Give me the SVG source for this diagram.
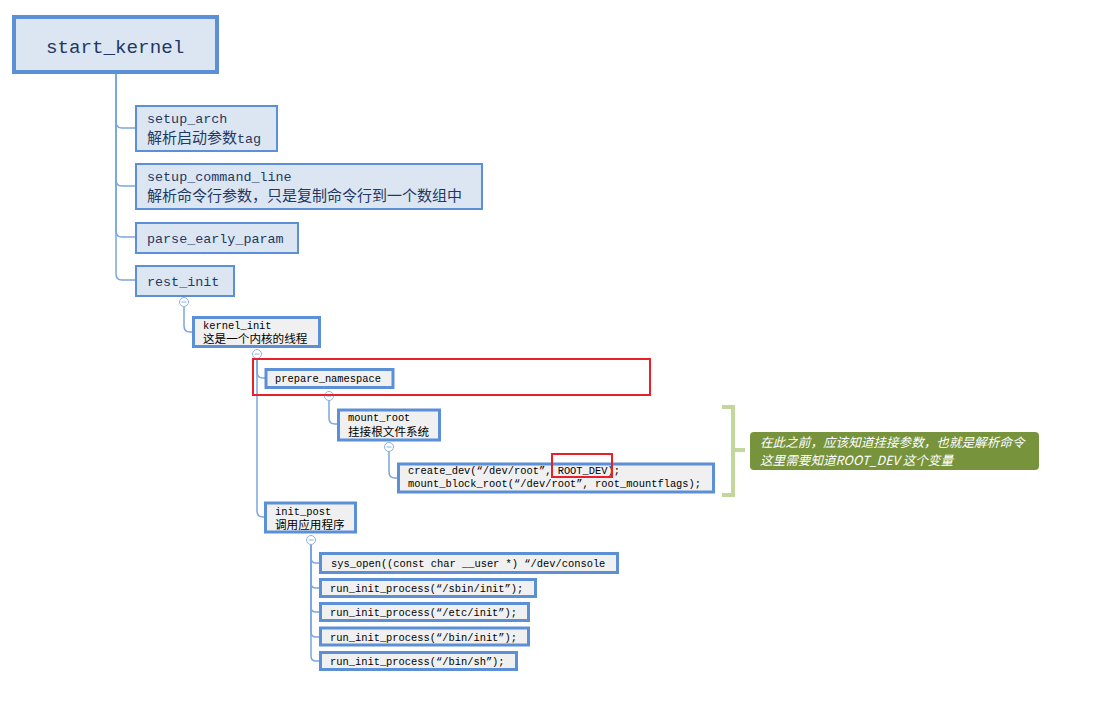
<svg xmlns="http://www.w3.org/2000/svg" width="1101" height="714" viewBox="0 0 1101 714">
<style>
.top{fill:#dce6f2;stroke:#5b8fd6;stroke-width:2}
.low{fill:#f0f0f0;stroke:#5b8fd6;stroke-width:3}
.tt{font-family:"Liberation Mono",monospace;font-size:13.4px;fill:#1f3864}
.tc{font-family:"Noto Sans CJK SC",sans-serif;font-size:15px;fill:#1f3864}
.lt{font-family:"Liberation Mono",monospace;font-size:10.4px;fill:#000}
.lc{font-family:"Noto Sans CJK SC",sans-serif;font-size:11.6px;fill:#000}
.con{fill:none;stroke:#7aa6e0;stroke-width:1.5}
.col{fill:#fff;stroke:#8db3e2;stroke-width:1}
.red{fill:none;stroke:#e8202a;stroke-width:2}
</style>
<rect width="1101" height="714" fill="#fff"/>
<g id="connectors">
<path class="con" d="M116,74 V122 Q116,128 122,128 H135"/>
<path class="con" d="M116,74 V180 Q116,186 122,186 H135"/>
<path class="con" d="M116,74 V231 Q116,237 122,237 H135"/>
<path class="con" d="M116,74 V274 Q116,280 122,280 H135"/>
<path class="con" d="M184,306 V326 Q184,332 190,332 H192"/>
<path class="con" d="M257,358 V372 Q257,378 263,378 H265"/>
<path class="con" d="M257,358 V511 Q257,517 263,517 H264"/>
<path class="con" d="M329,400 V418 Q329,424 335,424 H337"/>
<path class="con" d="M389,451 V472 Q389,478 395,478 H397"/>
<path class="con" d="M311,544 V558 Q311,563 316,563 H319"/>
<path class="con" d="M311,544 V583 Q311,588 316,588 H319"/>
<path class="con" d="M311,544 V607 Q311,612 316,612 H319"/>
<path class="con" d="M311,544 V632 Q311,637 316,637 H319"/>
<path class="con" d="M311,544 V656 Q311,661 316,661 H319"/>
<g id="collapse">
<circle class="col" cx="184" cy="302" r="4.5"/><path d="M181.5,302 H186.5" stroke="#8db3e2"/>
<circle class="col" cx="257" cy="354" r="4.5"/><path d="M254.5,354 H259.5" stroke="#8db3e2"/>
<circle class="col" cx="329" cy="396" r="4.5"/><path d="M326.5,396 H331.5" stroke="#8db3e2"/>
<circle class="col" cx="389" cy="447" r="4.5"/><path d="M386.5,447 H391.5" stroke="#8db3e2"/>
<circle class="col" cx="311" cy="540" r="4.5"/><path d="M308.5,540 H313.5" stroke="#8db3e2"/>
</g>
</g>
<g id="start_kernel">
<rect x="14" y="17" width="203" height="55" fill="#dce6f2" stroke="#5b8fd6" stroke-width="4"/>
<text x="46" y="53" font-family="Liberation Mono,monospace" font-size="19.2" fill="#1f3864">start_kernel</text>
</g>
<g id="setup_arch">
<rect class="top" x="136" y="106" width="141" height="45"/>
<text class="tt" x="147" y="123">setup_arch</text>
<text class="tc" x="147" y="143">解析启动参数<tspan class="tt">tag</tspan></text>
</g>
<g id="setup_command_line">
<rect class="top" x="136" y="164" width="346" height="45"/>
<text class="tt" x="147" y="181">setup_command_line</text>
<text class="tc" x="147" y="201">解析命令行参数，只是复制命令行到一个数组中</text>
</g>
<g id="parse_early_param">
<rect class="top" x="136" y="223" width="162" height="30" stroke-width="2.5"/>
<text class="tt" x="147" y="243">parse_early_param</text>
</g>
<g id="rest_init">
<rect class="top" x="136" y="266" width="98" height="30"/>
<text class="tt" x="147" y="286">rest_init</text>
</g>
<g id="kernel_init">
<rect class="low" x="193.5" y="317.5" width="126" height="29"/>
<text class="lt" x="203" y="328.5">kernel_init</text>
<text class="lc" x="203" y="343">这是一个内核的线程</text>
</g>
<g id="prepare_namespace">
<rect class="low" x="266" y="369.5" width="127" height="18"/>
<text class="lt" x="275" y="382">prepare_namespace</text>
</g>
<g id="mount_root">
<rect class="low" x="338.5" y="410" width="101" height="30"/>
<text class="lt" x="348" y="420.5">mount_root</text>
<text class="lc" x="348" y="436">挂接根文件系统</text>
</g>
<g id="create_dev">
<rect class="low" x="398.5" y="464" width="315" height="28"/>
<text class="lt" x="408" y="474">create_dev(“/dev/root”, ROOT_DEV);</text>
<text class="lt" x="408" y="487">mount_block_root(“/dev/root”, root_mountflags);</text>
</g>
<g id="init_post">
<rect class="low" x="265.5" y="503" width="90" height="29"/>
<text class="lt" x="275" y="514.5">init_post</text>
<text class="lc" x="275" y="529">调用应用程序</text>
</g>
<g id="sys_open">
<rect class="low" x="320.5" y="553.5" width="297" height="19"/>
<text class="lt" x="331" y="567">sys_open((const char __user *) “/dev/console</text>
</g>
<g id="run_sbin_init">
<rect class="low" x="320.5" y="579.5" width="215" height="17"/>
<text class="lt" x="330" y="592">run_init_process(“/sbin/init”);</text>
</g>
<g id="run_etc_init">
<rect class="low" x="320.5" y="603.5" width="208" height="17"/>
<text class="lt" x="330" y="616">run_init_process(“/etc/init”);</text>
</g>
<g id="run_bin_init">
<rect class="low" x="320.5" y="628" width="208" height="17"/>
<text class="lt" x="330" y="641">run_init_process(“/bin/init”);</text>
</g>
<g id="run_bin_sh">
<rect class="low" x="320.5" y="652.5" width="196" height="17"/>
<text class="lt" x="330" y="665">run_init_process(“/bin/sh”);</text>
</g>
<g id="highlights">
<rect class="red" x="253" y="359" width="397" height="36"/>
<rect class="red" x="552" y="454" width="60" height="23"/>
</g>
<g id="note">
<path d="M722,407 H733 V495 H722 M733,450 H745" fill="none" stroke="#c3d69b" stroke-width="4"/>
<rect x="750" y="432" width="289" height="38" rx="4" fill="#77933c"/>
<text x="760" y="447" font-family="Noto Sans CJK SC,sans-serif" font-size="12.6" font-style="italic" fill="#fff">在此之前，应该知道挂接参数，也就是解析命令</text>
<text x="760" y="465" font-family="Noto Sans CJK SC,sans-serif" font-size="12.6" font-style="italic" fill="#fff">这里需要知道ROOT_DEV 这个变量</text>
</g>
</svg>
